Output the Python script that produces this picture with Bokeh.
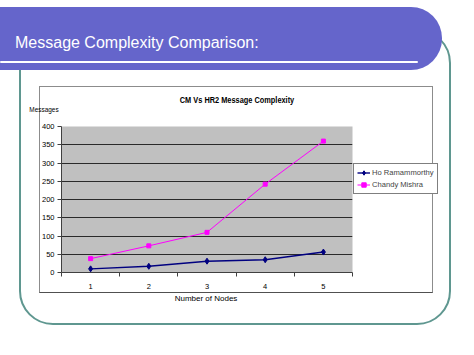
from bokeh.plotting import figure
from bokeh.models import Legend, LegendItem, FixedTicker, Range1d, Div
from bokeh.layouts import column
from bokeh.embed import file_html
from bokeh.resources import INLINE

# ---- data ----
nodes = [1, 2, 3, 4, 5]
ho_ramamoorthy = [10, 17, 31, 35, 56]
chandy_mishra = [38, 73, 110, 242, 360]
y_ticks = [0, 50, 100, 150, 200, 250, 300, 350, 400]
series_names = ["Ho Ramammorthy", "Chandy Mishra"]
slide_title = "Message Complexity Comparison:"
chart_title = "CM Vs HR2 Message Complexity"
x_title = "Number of Nodes"
y_title = "Messages"

FONT = "Liberation Sans"
W, H = 458, 339
# plot-area placement in pixels
FX0, FX1, FY0, FY1 = 61, 352, 126, 272


def box(left, top, width, height, style):
    return (f'<div style="position:absolute;box-sizing:border-box;left:{left}px;'
            f'top:{top}px;width:{width}px;height:{height}px;{style}"></div>')


def text(x, y, s, size, style="", sx=1.0):
    return (f'<div style="position:absolute;left:{x}px;top:{y}px;white-space:nowrap;'
            f'font-family:\'{FONT}\';font-size:{size}px;line-height:1;'
            f'transform:translate(-50%,-50%) scaleX({sx});{style}">{s}</div>')


# ---------- slide decoration (HTML) ----------
html = (f'<div style="position:relative;width:{W}px;height:{H}px;margin:0;padding:0;'
        f'overflow:hidden;background:white;">'
        + box(19, 29, 432, 296,
              "border:2.2px solid #5f9790;border-radius:34px;")
        + box(0, 7, 442, 63,
              "background:#6565cb;border-radius:0 31px 31px 0;")
        + box(0, 61, 418, 2, "background:white;border-radius:1px;")
        + box(39, 86, 394, 207,
              "background:white;border:1px solid #8c8c8c;border-bottom-color:#505050;")
        + f'<div style="position:absolute;left:15px;top:34.5px;white-space:nowrap;'
          f'font-family:\'{FONT}\';font-size:16px;line-height:1;color:white;">'
          f'{slide_title}</div>'
        + text(237, 99.5, chart_title, 9, "font-weight:bold;color:black;", 0.82)
        + text(43.5, 109, y_title, 7, "color:black;", 0.92)
        + text(206, 299, x_title, 8, "color:black;")
        + '</div>')
bg = Div(text=html, width=W, height=H, margin=(0, 0, 0, 0),
         styles={"margin": "0px", "padding": "0px"})

# ---------- chart ----------
p = figure(output_backend="svg", toolbar_location=None,
           frame_width=FX1 - FX0, frame_height=FY1 - FY0,
           min_border_left=FX0, min_border_top=FY0,
           min_border_right=W - FX1, min_border_bottom=H - FY1,
           x_range=Range1d(nodes[0] - 0.5, nodes[-1] + 0.5),
           y_range=Range1d(y_ticks[0], y_ticks[-1]))
p.background_fill_color = "#c0c0c0"
p.border_fill_alpha = 0
p.outline_line_color = None

p.xaxis.ticker = FixedTicker(ticks=nodes,
                             minor_ticks=[n - 0.5 for n in nodes] + [nodes[-1] + 0.5])
p.xaxis.major_tick_line_color = None
p.xaxis.major_tick_out = 0
p.xaxis.major_tick_in = 0
p.xaxis.minor_tick_out = 4
p.xaxis.minor_tick_in = 0
p.xaxis.minor_tick_line_color = "#404040"
p.xaxis.major_label_standoff = 7
p.xaxis.major_label_text_font = FONT
p.xaxis.major_label_text_font_size = "7.5px"
p.xaxis.major_label_text_color = "black"
p.xaxis.axis_line_color = "#404040"

p.yaxis.ticker = FixedTicker(ticks=y_ticks, minor_ticks=[])
p.yaxis.major_tick_out = 4
p.yaxis.major_tick_in = 0
p.yaxis.major_tick_line_color = "#404040"
p.yaxis.major_label_standoff = 3
p.yaxis.major_label_text_font = FONT
p.yaxis.major_label_text_font_size = "7.5px"
p.yaxis.major_label_text_color = "black"
p.yaxis.axis_line_color = "#404040"

p.xgrid.grid_line_color = None
p.ygrid.ticker = FixedTicker(ticks=y_ticks)
p.ygrid.grid_line_color = "#2a2a2a"
p.ygrid.grid_line_width = 1

l1 = p.line(nodes, ho_ramamoorthy, line_color="#000080", line_width=1.4)
s1 = p.scatter(nodes, ho_ramamoorthy, marker="diamond", size=6,
               fill_color="#000080", line_color="#000080")
l2 = p.line(nodes, chandy_mishra, line_color="#ff00ff", line_width=1)
s2 = p.scatter(nodes, chandy_mishra, marker="square", size=4,
               fill_color="#ff00ff", line_color="#ff00ff")

legend = Legend(items=[LegendItem(label=series_names[0], renderers=[l1, s1]),
                       LegendItem(label=series_names[1], renderers=[l2, s2])],
                location=(1, FY1 - 194))
legend.label_text_font = FONT
legend.label_text_font_size = "7.6px"
legend.glyph_width = 13
legend.glyph_height = 11
legend.label_height = 11
legend.label_standoff = 2
legend.padding = 3
legend.spacing = 1
legend.margin = 0
legend.border_line_color = "black"
legend.border_line_width = 1
legend.background_fill_color = "white"
legend.background_fill_alpha = 1
p.add_layout(legend, "right")

p.styles = {"margin-top": f"-{H}px"}
root = column(bg, p)

open("out.html", "w").write(file_html(root, INLINE))
